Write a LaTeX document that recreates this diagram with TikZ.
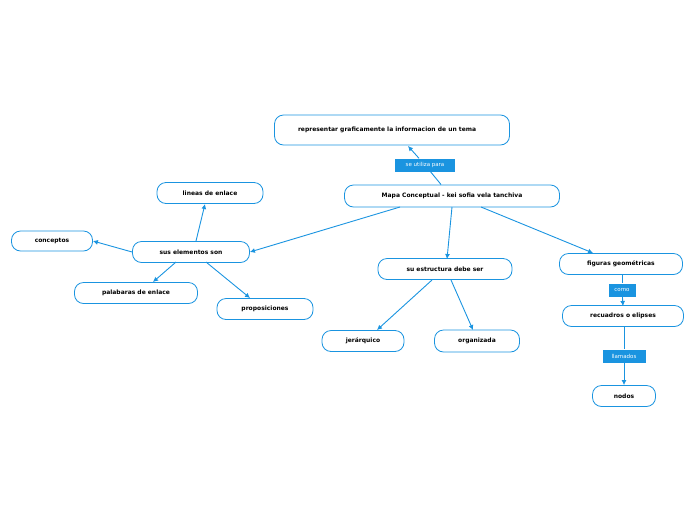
\documentclass[tikz,border=0pt]{standalone}
\usepackage{fontspec}
\setmainfont{DejaVu Sans}
\usetikzlibrary{arrows.meta}
\begin{document}
\begin{tikzpicture}[x=1pt,y=-1pt,
  cb/.style={draw=blu,line width=0.8pt,rounded corners=9pt,fill=white,font=\bfseries\fontsize{6}{7.5}\selectfont,inner sep=0pt},
  lab/.style={fill=blu,text=white,font=\fontsize{5.5}{6.5}\selectfont,inner sep=0pt,minimum height=13pt},
  ar/.style={draw=blu,line width=0.9pt,-{Latex[length=5pt,width=5pt]}},
  ln/.style={draw=blu,line width=0.9pt}]
\definecolor{blu}{RGB}{26,148,224}
\useasboundingbox (0,0) rectangle (696,520);
\node[cb,minimum width=235pt,minimum height=30pt] (top) at (392,130) {\begin{minipage}{188pt}representar graficamente la informacion de un tema\end{minipage}};
\node[cb,minimum width=215pt,minimum height=22pt] (main) at (452,196) {Mapa Conceptual - kei sofia vela tanchiva};
\node[lab,minimum width=60pt] (l1) at (425,165) {se utiliza para};
\node[cb,minimum width=106pt,minimum height=21pt] (lin) at (210,193) {lineas de enlace};
\node[cb,minimum width=81pt,minimum height=20pt] (con) at (52,241) {conceptos};
\node[cb,minimum width=117pt,minimum height=21pt] (sus) at (191,252) {sus elementos son};
\node[cb,minimum width=123pt,minimum height=21pt] (pal) at (136,293) {palabaras de enlace};
\node[cb,minimum width=96pt,minimum height=21pt] (pro) at (265,309) {proposiciones};
\node[cb,minimum width=134pt,minimum height=21pt] (est) at (445,269) {su estructura debe ser};
\node[cb,minimum width=82pt,minimum height=21pt] (jer) at (363,341) {jerárquico};
\node[cb,minimum width=85pt,minimum height=22pt] (org) at (477,341) {organizada};
\node[cb,minimum width=123pt,minimum height=21pt] (fig) at (621,264) {figuras geométricas};
\node[cb,minimum width=121pt,minimum height=21pt] (rec) at (623,316) {recuadros o elipses};
\node[cb,minimum width=63pt,minimum height=21pt] (nod) at (624,396) {nodos};
\node[lab,minimum width=27pt] (l2) at (622,290) {como};
\node[lab,minimum width=43pt] (l3) at (624,356) {llamados};
\draw[ln] (main.north west) ++(97,0) coordinate (m1) -- (l1);
\draw[ar] (l1) -- (408,146);
\draw[ar] (400,207) -- (sus.east);
\draw[ar] (sus) ++(5,-11) -- (205,204);
\draw[ar] (sus.west) -- (con.east);
\draw[ar] (176,262) -- (153,282);
\draw[ar] (206,262) -- (250,298);
\draw[ar] (452,207) -- (447,259);
\draw[ar] (481,207) -- (593,253);
\draw[ar] (432,280) -- (377,330);
\draw[ar] (451,280) -- (473,330);
\draw[ln] (fig) ++(1,10.5) -- (l2);
\draw[ar] (l2) -- (623,306);
\draw[ln] (rec) ++(1,10.5) -- (l3);
\draw[ar] (l3) -- (nod);
\end{tikzpicture}
\end{document}
